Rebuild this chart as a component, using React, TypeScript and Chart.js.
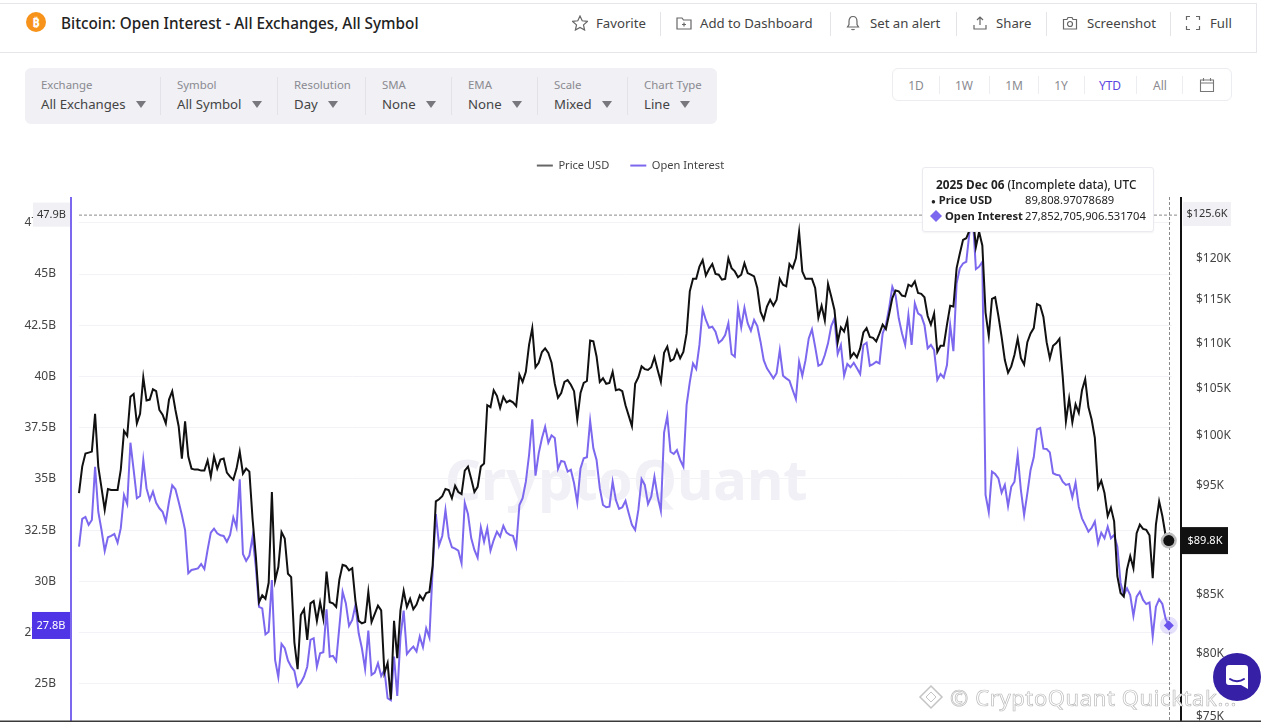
import React, { useEffect, useRef } from "react";
import { Chart, registerables } from "chart.js";

Chart.register(...registerables);

const priceUsdK = [
  94.3,96.9,98.2,98.3,98.4,102.3,96.9,94.8,92.7,94.7,
  94.6,94.6,94.6,96.6,100.5,100.0,104.1,104.4,101.3,102.3,
  106.2,103.7,103.8,104.9,104.7,102.7,102.2,101.3,103.8,104.7,
  102.7,101.0,97.7,101.5,97.9,96.7,96.6,96.6,96.5,96.5,
  97.5,95.9,97.9,96.7,97.6,97.7,96.3,95.9,95.6,96.7,
  98.4,96.2,96.7,96.4,91.8,88.4,84.3,84.9,84.6,86.0,
  94.4,86.2,87.4,90.6,90.0,86.8,86.5,80.9,78.7,83.2,
  83.7,81.1,84.2,84.4,82.7,84.3,82.9,87.0,84.3,84.2,
  83.9,86.3,87.6,87.5,87.1,87.3,84.4,82.7,82.5,82.6,
  85.2,82.6,83.3,84.0,83.6,78.4,79.2,76.3,82.7,79.6,
  83.6,85.3,83.9,84.6,83.7,84.1,84.9,84.5,85.1,85.2,
  87.5,93.5,93.7,94.0,94.7,94.6,93.8,95.0,94.4,94.2,
  96.5,96.9,95.7,94.4,94.9,96.9,97.2,103.2,103.0,104.8,
  104.2,102.9,104.1,103.5,103.7,103.5,103.1,106.5,105.7,106.8,
  109.8,111.7,107.3,107.8,109.0,109.4,108.9,107.8,105.5,104.0,
  104.5,105.7,105.9,105.4,104.7,101.7,104.5,105.6,105.8,110.3,
  110.2,108.5,105.7,106.1,105.5,105.6,106.8,104.8,104.9,104.7,
  103.2,102.1,101.0,105.5,106.2,107.4,107.1,107.0,107.3,108.4,
  107.0,105.7,108.9,109.6,108.0,108.2,109.2,108.3,109.0,111.1,
  116.0,117.5,117.5,119.0,119.8,117.9,118.7,119.3,118.1,118.0,
  117.4,117.5,120.0,118.8,118.4,117.7,118.0,119.4,118.2,118.0,
  117.8,116.4,113.6,112.7,114.2,115.0,114.3,115.0,117.5,116.8,
  116.6,119.3,118.8,120.0,123.3,118.4,117.5,117.5,117.5,116.4,
  112.9,114.3,112.6,116.9,115.4,113.8,110.1,111.8,111.3,112.6,
  108.4,108.9,108.4,109.4,111.2,111.7,110.7,110.6,110.2,111.1,
  112.1,111.6,113.3,115.2,116.1,116.0,115.5,115.4,116.8,116.6,
  117.2,115.8,115.7,115.3,113.1,112.1,113.4,109.0,109.7,109.7,
  112.1,114.3,114.2,118.8,120.6,122.3,122.5,123.5,125.6,121.4,
  123.3,121.6,113.5,110.8,115.1,115.3,113.1,110.7,108.1,106.7,
  107.4,108.7,110.5,108.3,107.6,110.1,111.1,111.7,114.5,114.3,
  113.0,110.1,108.3,109.7,110.0,110.5,106.3,101.5,103.9,101.4,
  103.3,102.4,104.8,106.0,103.0,101.7,99.8,94.8,95.5,94.3,
  92.1,92.9,91.6,86.6,85.1,84.8,87.2,88.4,87.3,90.5,
  91.3,90.9,90.8,90.3,86.4,91.3,93.5,92.1,90.3,89.809,
];

const openInterestB = [
  31.7,33.05,33.15,32.76,33.0,35.6,33.4,32.51,31.49,32.16,
  32.22,32.32,31.89,32.6,34.22,33.78,36.77,35.44,34.06,34.17,
  35.93,34.55,33.98,34.38,33.84,33.57,33.4,32.92,33.89,34.69,
  34.5,33.89,33.24,32.51,30.4,30.56,30.6,30.64,30.85,30.61,
  31.54,32.38,32.58,32.35,32.25,32.22,31.94,32.27,33.13,32.64,
  34.99,31.34,31.0,31.26,32.19,30.72,28.76,28.69,27.42,27.55,
  30.07,26.17,25.33,26.95,26.74,26.14,25.84,25.63,24.87,25.06,
  25.36,25.84,27.15,27.23,25.84,26.5,26.55,28.64,26.33,26.37,
  26.12,27.8,29.5,28.94,27.83,28.12,28.85,27.47,26.74,25.73,
  27.6,25.44,25.55,26.01,25.39,25.68,24.3,24.2,26.33,24.41,
  27.31,28.58,26.46,26.66,26.82,26.58,27.31,26.79,27.72,27.26,
  30.56,33.29,31.76,32.22,33.49,32.17,31.67,31.6,31.5,30.89,
  33.83,33.29,32.12,31.54,31.16,32.64,31.94,32.6,31.5,32.02,
  32.43,32.19,32.72,32.38,32.27,32.23,31.7,33.73,34.06,34.87,
  36.17,37.91,35.16,36.25,36.99,37.55,36.77,37.13,37.0,35.49,
  35.88,35.84,35.36,35.45,34.79,33.84,35.52,36.01,36.06,37.84,
  36.5,35.93,34.55,33.73,33.62,33.65,34.87,33.98,33.54,33.62,
  33.93,33.33,32.76,32.51,33.49,35.0,34.71,33.78,34.14,35.11,
  34.14,33.44,37.26,38.07,36.33,36.22,36.41,35.93,35.6,38.61,
  39.73,40.64,40.37,41.54,43.28,42.76,42.38,42.43,42.19,41.65,
  41.78,42.02,42.6,41.1,40.97,43.36,42.4,43.36,42.6,42.23,
  42.76,42.46,41.7,40.8,40.4,40.16,39.91,40.16,41.29,40.04,
  39.91,39.8,39.34,38.9,40.72,40.04,40.8,41.86,42.3,41.45,
  40.53,40.61,41.05,41.62,42.46,42.84,41.1,41.54,40.04,40.61,
  40.45,40.67,40.4,40.12,41.54,41.65,40.53,40.61,40.72,40.64,
  42.11,42.51,43.33,44.38,43.98,42.84,42.11,41.54,43.0,41.54,
  43.57,43.08,42.97,42.51,41.38,41.54,41.29,39.83,40.12,39.94,
  40.56,42.51,41.24,44.55,45.28,45.52,45.6,47.05,47.9,45.24,
  45.36,45.6,34.22,33.38,35.36,35.24,35.03,34.33,34.71,33.68,
  34.62,34.87,36.17,34.46,33.24,34.3,35.44,36.06,37.42,37.49,
  36.48,36.46,36.3,35.28,35.21,35.18,34.87,34.71,34.76,34.11,
  34.82,33.65,33.08,32.76,32.43,32.61,32.92,31.86,32.38,32.11,
  32.67,32.11,32.27,31.7,29.93,29.34,29.67,29.34,28.32,29.26,
  29.5,29.1,28.9,28.97,27.31,28.77,29.13,28.9,28.2,27.8527,
];

const leftTicks = [25, 27.5, 30, 32.5, 35, 37.5, 40, 42.5, 45, 47.5];
const rightTicks = [75, 80, 85, 90, 95, 100, 105, 110, 115, 120];
const hiddenRightTicks = [90];
const filters = [
  ["Exchange", "All Exchanges"], ["Symbol", "All Symbol"], ["Resolution", "Day"],
  ["SMA", "None"], ["EMA", "None"], ["Scale", "Mixed"], ["Chart Type", "Line"],
];
const ranges = ["1D", "1W", "1M", "1Y", "YTD", "All"];
const actions = ["Favorite", "Add to Dashboard", "Set an alert", "Share", "Screenshot", "Full"];

const MONTHS = ["Jan","Feb","Mar","Apr","May","Jun","Jul","Aug","Sep","Oct","Nov","Dec"];
const days: string[] = [];
for (let i = 0; i <= priceUsdK.length; i++) {
  const d = new Date(Date.UTC(2025, 0, 1 + i));
  days.push(`2025 ${MONTHS[d.getUTCMonth()]} ${String(d.getUTCDate()).padStart(2, "0")}`);
}

const FONT = '"Noto Sans", sans-serif';
const PURPLE = "#7b68ee";

const overlayPlugin = {
  id: "overlay",
  beforeInit(chart: any) {
    const fit = chart.legend.fit;
    chart.legend.fit = function () {
      fit.call(this);
      this.height = 58;
    };
  },
  beforeDatasetsDraw(chart: any) {
    const { ctx } = chart;
    const p = chart.getDatasetMeta(0).data[priceUsdK.length - 1];
    const top = chart.scales.yOI.top;
    const bottom = chart.scales.yOI.bottom;
    const yHi = chart.scales.yOI.getPixelForValue(47.9);
    ctx.save();
    ctx.strokeStyle = "#8a8a8a";
    ctx.lineWidth = 1;
    ctx.setLineDash([3, 2]);
    ctx.beginPath();
    ctx.moveTo(79, yHi + 0.5);
    ctx.lineTo(1178, yHi + 0.5);
    ctx.moveTo(Math.round(p.x) + 0.5, top);
    ctx.lineTo(Math.round(p.x) + 0.5, bottom);
    ctx.stroke();
    ctx.restore();
  },
  afterDatasetsDraw(chart: any) {
    const { ctx } = chart;
    const p = chart.getDatasetMeta(0).data[priceUsdK.length - 1];
    const q = chart.getDatasetMeta(1).data[priceUsdK.length - 1];
    ctx.save();
    ctx.beginPath();
    ctx.arc(p.x, p.y, 8, 0, Math.PI * 2);
    ctx.fillStyle = "#bdbdbd";
    ctx.fill();
    ctx.beginPath();
    ctx.arc(p.x, p.y, 5.5, 0, Math.PI * 2);
    ctx.fillStyle = "#111";
    ctx.fill();
    ctx.beginPath();
    ctx.arc(q.x, q.y, 9, 0, Math.PI * 2);
    ctx.fillStyle = "rgba(123,104,238,0.2)";
    ctx.fill();
    ctx.beginPath();
    ctx.moveTo(q.x, q.y - 5);
    ctx.lineTo(q.x + 5, q.y);
    ctx.lineTo(q.x, q.y + 5);
    ctx.lineTo(q.x - 5, q.y);
    ctx.closePath();
    ctx.fillStyle = "#6a52ec";
    ctx.fill();
    ctx.restore();
  },
  afterDraw(chart: any) {
    const { ctx, scales } = chart;
    const top = scales.yOI.top;
    const bottom = scales.yOI.bottom;
    ctx.save();
    ctx.fillStyle = PURPLE;
    ctx.fillRect(70, top, 2, bottom - top + 2);
    ctx.fillStyle = "#111";
    ctx.fillRect(1180, top, 2, bottom - top + 2);
    ctx.fillStyle = "#3a3a3a";
    ctx.fillRect(0, 720.5, 1261, 1.5);

    const pill = (x: number, y: number, w: number, h: number, bg: string, fg: string, text: string) => {
      ctx.fillStyle = bg;
      ctx.fillRect(x, y - h / 2, w, h);
      ctx.fillStyle = fg;
      ctx.font = `11px ${FONT}`;
      ctx.textAlign = "center";
      ctx.textBaseline = "middle";
      ctx.fillText(text, x + w / 2, y);
    };
    pill(33, scales.yOI.getPixelForValue(47.9), 37, 24, "#f0f0f5", "#333", "47.9B");
    pill(32, scales.yOI.getPixelForValue(27.8527), 38, 27, "#4f35e6", "#fff", "27.8B");
    pill(1183, scales.yPrice.getPixelForValue(125.6), 48, 24, "#f0f0f5", "#333", "$125.6K");
    pill(1182, scales.yPrice.getPixelForValue(89.809), 46, 27, "#111", "#fff", "$89.8K");
    ctx.restore();
  },
};

const iconStroke = { fill: "none", stroke: "#666", strokeWidth: 1.2 } as const;
const icons = [
  <path d="M8 1l2.2 4.8 5.2.6-3.9 3.5 1.1 5.1L8 12.4 3.4 15l1.1-5.1L.6 6.4l5.2-.6z" {...iconStroke} />,
  <path d="M1 3h5l1.5 2H15v9H1zM8 7.5v4M6 9.5h4" {...iconStroke} />,
  <path d="M8 1.5c-3 0-4 2.5-4 5v3L2.500 12h11L12 9.500v-3c0-2.500-1-5-4-5zM6.500 14c.5 1 2.500 1 3 0" {...iconStroke} />,
  <path d="M8 10V2M5 5l3-3 3 3M2 10v4h12v-4" {...iconStroke} />,
  <path d="M1.500 4.500h3.500l1-2h4l1 2h3.500V14h-13zM8 6.500a2.500 2.500 0 100 5 2.500 2.500 0 000-5z" {...iconStroke} />,
  <path d="M1.500 5V1.500H5M11 1.500h3.500V5M14.500 11v3.500H11M5 14.500H1.500V11" {...iconStroke} />,
];
const iconX = [572, 676, 845, 972, 1062, 1185];
const textX = [596, 700, 870, 996, 1087, 1210];
const actionSeps = [660, 830, 956, 1046, 1170];
const filterX = [41, 177, 294, 382, 468, 554, 644];
const arrowX = [141, 257, 333, 431, 517, 607, 685];
const filterSeps = [160, 277, 365, 451, 537, 627];
const rangeX = [916, 964, 1014, 1061, 1110, 1160];
const rangeSeps = [939, 989, 1038, 1084, 1136, 1182];

const abs = (x: number, y: number, extra: React.CSSProperties = {}): React.CSSProperties => ({
  position: "absolute", left: x, top: y, whiteSpace: "nowrap", ...extra,
});

export default function App() {
  const ref = useRef<HTMLCanvasElement>(null);

  useEffect(() => {
    const legendColors = ["#666666", PURPLE];
    const chart = new Chart(ref.current as HTMLCanvasElement, {
      type: "line",
      data: {
        labels: days,
        datasets: [
          { label: "Price USD", data: priceUsdK, yAxisID: "yPrice", borderColor: "#111111", backgroundColor: "#666666", borderWidth: 2, pointRadius: 0, tension: 0 },
          { label: "Open Interest", data: openInterestB, yAxisID: "yOI", borderColor: PURPLE, backgroundColor: PURPLE, borderWidth: 2, pointRadius: 0, tension: 0 },
        ],
      },
      options: {
        animation: false,
        responsive: false,
        layout: { padding: { top: 139, bottom: 2, left: 0, right: 0 } },
        scales: {
          x: { display: false, offset: false },
          yOI: {
            type: "linear",
            position: "left",
            min: 23.24,
            max: 48.76,
            afterBuildTicks: (s: any) => { s.ticks = leftTicks.map((value) => ({ value })); },
            afterFit: (s: any) => { s.width = 79; s.paddingTop = 0; s.paddingBottom = 0; },
            border: { display: false },
            grid: { color: "#f3f3f7", lineWidth: 1, drawTicks: false },
            ticks: {
              autoSkip: false, padding: 23, color: "#444", font: { family: FONT, size: 12 },
              callback: (v: any) => `${v}B`,
            },
          },
          yPrice: {
            type: "logarithmic",
            position: "right",
            min: 74.7,
            max: 127.8,
            afterBuildTicks: (s: any) => { s.ticks = rightTicks.map((value) => ({ value })); },
            afterFit: (s: any) => { s.width = 89; s.paddingTop = 0; s.paddingBottom = 0; },
            border: { display: false },
            grid: { display: false, drawTicks: false },
            ticks: {
              autoSkip: false, padding: 24, color: "#444", font: { family: FONT, size: 12 },
              callback: (v: any) => (hiddenRightTicks.includes(v) ? "" : `$${v}K`),
            },
          },
        },
        plugins: {
          tooltip: { enabled: false },
          legend: {
            display: true,
            position: "top",
            labels: {
              boxWidth: 16,
              boxHeight: 2,
              padding: 21,
              color: "#444",
              font: { family: FONT, size: 11.1 },
              generateLabels: (c: any) =>
                c.data.datasets.map((d: any, i: number) => ({
                  text: d.label, fillStyle: legendColors[i], strokeStyle: legendColors[i], lineWidth: 0, datasetIndex: i, fontColor: "#444",
                })),
            },
          },
        },
      },
      plugins: [overlayPlugin],
    } as any);
    return () => chart.destroy();
  }, []);

  return (
    <div style={{ position: "absolute", left: 0, top: 0, width: 1261, height: 722, overflow: "hidden", background: "#fff", fontFamily: FONT, color: "#444" }}>
      <div style={abs(0, 3, { width: 1256, height: 48, borderTop: "1.5px solid #e6e6ea", borderBottom: "1.5px solid #e6e6ea", borderRight: "1.5px solid #e6e6ea" })} />
      <svg style={abs(25, 11)} width="22" height="22" viewBox="0 0 22 22">
        <circle cx="11" cy="11" r="10" fill="#f7931a" />
        <text x="11" y="15.500" fontSize="13" fontWeight="700" textAnchor="middle" fill="#fff" fontFamily={FONT}>₿</text>
      </svg>
      <div style={abs(61, 12, { fontSize: 15.3, fontWeight: 500, color: "#222", lineHeight: "22px" })}>Bitcoin: Open Interest - All Exchanges, All Symbol</div>
      {actions.map((a, i) => (
        <React.Fragment key={a}>
          <svg style={abs(iconX[i], 15)} width="16" height="16" viewBox="0 0 16 16">{icons[i]}</svg>
          <div style={abs(textX[i], 13, { fontSize: 13.2, lineHeight: "20px", color: "#444" })}>{a}</div>
        </React.Fragment>
      ))}
      {actionSeps.map((x) => <div key={x} style={abs(x, 12, { width: 1, height: 24, background: "#e4e4e8" })} />)}

      <div style={abs(25, 68, { width: 692, height: 56, background: "#f0f0f5", borderRadius: 6 })} />
      {filters.map(([k, v], i) => (
        <React.Fragment key={k}>
          <div style={abs(filterX[i], 77, { fontSize: 11.4, lineHeight: "16px", color: "#8a8a90" })}>{k}</div>
          <div style={abs(filterX[i], 95, { fontSize: 13.2, lineHeight: "18px", color: "#444" })}>{v}</div>
          <svg style={abs(arrowX[i] - 5, 101)} width="10" height="7" viewBox="0 0 10 7"><path d="M0 0h10L5 7z" fill="#77777d" /></svg>
        </React.Fragment>
      ))}
      {filterSeps.map((x) => <div key={x} style={abs(x, 77, { width: 1, height: 38, background: "#e2e2e8" })} />)}

      <div style={abs(892, 68, { width: 338, height: 31, border: "1.5px solid #ecedf0", borderRadius: 6 })} />
      {ranges.map((r, i) => (
        <div key={r} style={abs(rangeX[i], 77, { transform: "translateX(-50%)", fontSize: 12, lineHeight: "17px", color: r === "YTD" ? "#5b45e0" : "#8a8a90" })}>{r}</div>
      ))}
      {rangeSeps.map((x) => <div key={x} style={abs(x, 76, { width: 1, height: 18, background: "#ecedf0" })} />)}
      <svg style={abs(1199, 77)} width="16" height="16" viewBox="0 0 16 16"><path d="M1.500 3h13v11.500h-13zM1.500 6h13M4.500 1v3M11.500 1v3" fill="none" stroke="#777" strokeWidth="1.100" /></svg>

      <div style={abs(445, 440, { fontSize: 56, fontWeight: 700, color: "#f0f0f6", lineHeight: "76px" })}>CryptoQuant</div>

      <canvas ref={ref} width={1261} height={722} style={abs(0, 0, { display: "block" })} />

      <div style={abs(950, 682, { fontSize: 22, lineHeight: "30px", color: "#fff", WebkitTextStroke: "0.7px #bbb" as any, letterSpacing: 0.6 })}>© CryptoQuant Quicktak...</div>
      <svg style={abs(918, 684)} width="26" height="26" viewBox="0 0 26 26"><path d="M13 2l11 11-11 11L2 13z" fill="#fff" stroke="#c4c4c4" strokeWidth="1.500" /><path d="M13 8l5 5-5 5-5-5z" fill="#fff" stroke="#c4c4c4" /></svg>

      <div style={abs(922, 167, { width: 230, height: 63, background: "#fff", border: "1px solid #eaeaf0", borderRadius: 3, boxShadow: "0 1px 2px rgba(0,0,0,.05)", color: "#222", fontSize: 11.2, lineHeight: "16px" })}>
        <div style={abs(13, 8, { fontWeight: 500, fontSize: 11.8 })}><b>2025 Dec 06</b> (Incomplete data), UTC</div>
        <div style={abs(8, 24)}><span style={{ fontSize: 8, marginRight: 3 }}>●</span><b>Price USD</b></div>
        <div style={abs(102, 24)}>89,808.97078689</div>
        <svg style={abs(7, 42)} width="12" height="12" viewBox="0 0 12 12"><path d="M6 0l6 6-6 6-6-6z" fill={PURPLE} /></svg>
        <div style={abs(22, 40)}><b>Open Interest</b></div>
        <div style={abs(102, 40)}>27,852,705,906.531704</div>
      </div>

      <svg style={abs(1213, 653)} width="48" height="48" viewBox="0 0 48 48">
        <circle cx="24" cy="24" r="24" fill="#3621a6" />
        <path d="M16 12h16a3 3 0 013 3v21l-7-4H16a3 3 0 01-3-3V15a3 3 0 013-3z" fill="#fff" />
        <path d="M17 26c4 3 10 3 14 0" fill="none" stroke="#3621a6" strokeWidth="2" strokeLinecap="round" />
      </svg>
    </div>
  );
}
